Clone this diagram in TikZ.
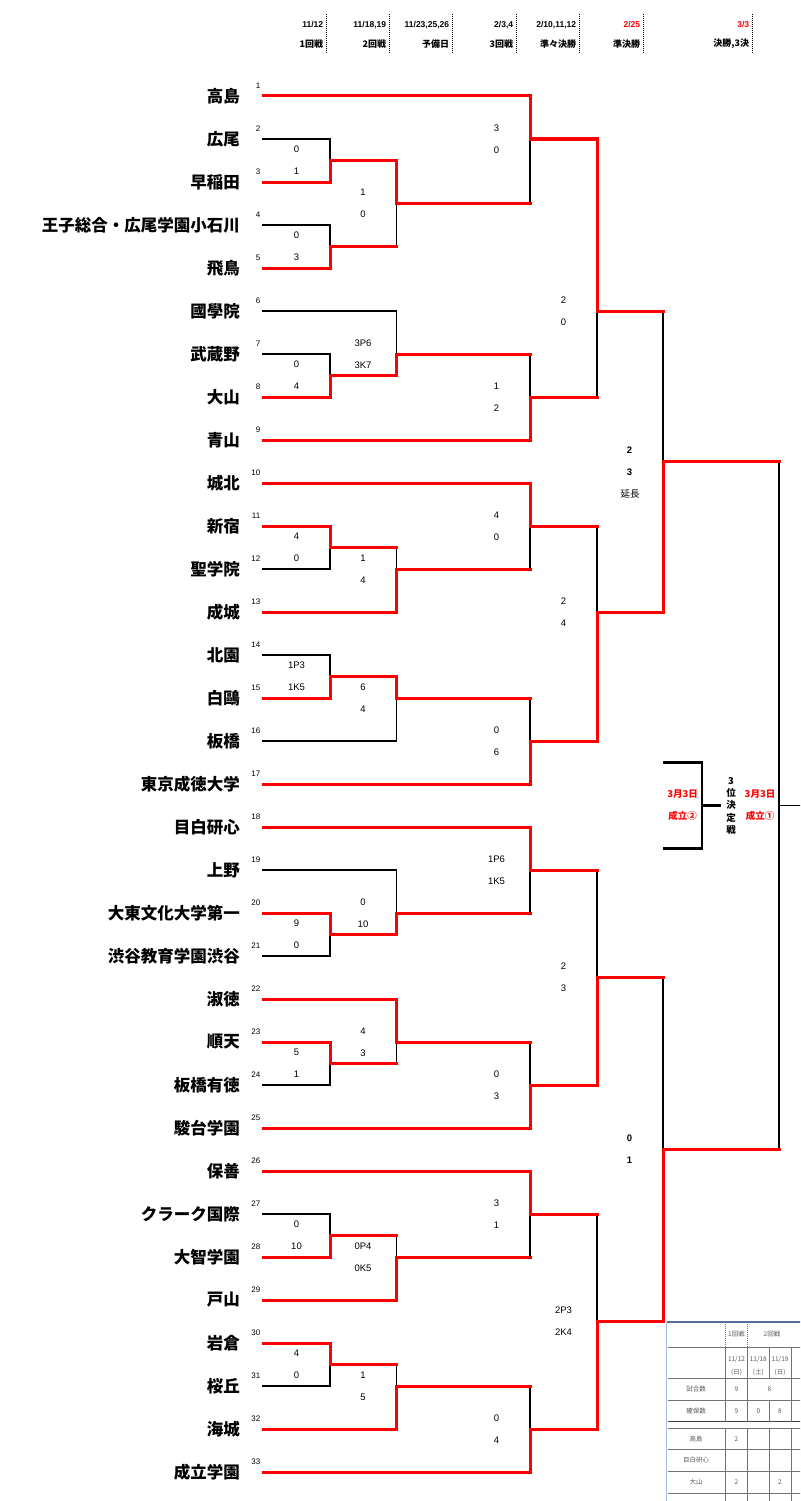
\documentclass[tikz,border=0pt]{standalone}
\usepackage{fontspec}
\setmainfont{Liberation Sans}
\newfontfamily\jp{Noto Sans CJK JP}
\definecolor{tblue}{RGB}{84,110,156}
\definecolor{lblue}{RGB}{165,188,222}

\tikzset{
  lose/.style={line width=1.6pt, line cap=rect},
  win/.style={red, line width=3pt, line cap=rect, line join=miter},
  team/.style={anchor=east, inner sep=0pt, font=\jp\bfseries\fontsize{16.5}{18}\selectfont},
  seed/.style={anchor=east, inner sep=0pt, font=\fontsize{8}{9}\selectfont},
  score/.style={inner sep=0pt, font=\fontsize{9.5}{11}\selectfont},
  head/.style={anchor=east, inner sep=0pt, font=\bfseries\fontsize{8.5}{10}\selectfont},
  headjp/.style={anchor=east, inner sep=0pt, font=\jp\bfseries\fontsize{9}{10}\selectfont},
  third/.style={inner sep=0pt, font=\jp\bfseries\fontsize{9.5}{11}\selectfont},
  cell/.style={inner sep=0pt, text=black!65, font=\jp\fontsize{6.5}{7}\selectfont},
  grid/.style={black!55, line width=0.8pt}
}

% match / x / top row / bottom row / out row / winner row / next x / scores
\def\matchlist{A1/330/2/4/3/4/396.5/0/1, A2/330/6/8/7/8/396.5/0/3,
  A3/330/12/14/13/14/396.5/0/4, A4/330/20/22/21/20/396.5/4/0,
  A5/330/26/28/27/28/396.5/1P3/1K5, A6/330/38/40/39/38/396.5/9/0,
  A7/330/44/46/45/44/396.5/5/1, A8/330/52/54/53/54/396.5/0/10,
  A9/330/58/60/59/58/396.5/4/0,
  B1/396.5/3/7/5/3/530/1/0, B2/396.5/10/13/12/13/530/3P6/3K7,
  B3/396.5/21/24/22/24/530/1/4, B4/396.5/27/30/28/27/530/6/4,
  B5/396.5/36/39/38/39/530/0/10, B6/396.5/42/45/44/42/530/4/3,
  B7/396.5/53/56/54/56/530/0P4/0K5, B8/396.5/59/62/60/62/530/1/5,
  C1/530/0/5/2/0/597/3/0, C2/530/12/16/14/16/597/1/2,
  C3/530/18/22/20/18/597/4/0, C4/530/28/32/30/32/597/0/6,
  C5/530/34/38/36/34/597/1P6/1K5, C6/530/44/48/46/48/597/0/3,
  C7/530/50/54/52/50/597/3/1, C8/530/60/64/62/64/597/0/4,
  D1/597/2/14/10/2/663/2/0, D2/597/20/30/24/30/663/2/4,
  D3/597/36/46/41/46/663/2/3, D4/597/52/62/57/62/663/2P3/2K4,
  E1/663/10/24/17/24/779/{\bfseries 2}/{\bfseries 3},
  E2/663/41/57/49/57/779/{\bfseries 0}/{\bfseries 1}}

\begin{document}
\begin{tikzpicture}[x=1pt,y=-1pt]
\useasboundingbox (0,0) rectangle (800,1501);
\clip (0,0) rectangle (800,1501);

% header
\foreach \hx/\hd/\hl/\hc in {326/{11/12}/1回戦/black, 389/{11/18,19}/2回戦/black,
  452/{11/23,25,26}/予備日/black, 516/{2/3,4}/3回戦/black,
  579/{2/10,11,12}/準々決勝/black, 643/{2/25}/準決勝/red, 752/{3/3}/{決勝,3決}/red} {
  \draw[line width=1pt, dash pattern=on 1pt off 1pt] (\hx,14) -- (\hx,53);
  \node[head, text=\hc] (hd\hx) at (\hx-2.7,25) {\hd};
  \node[headjp] (hl\hx) at (\hx-2.7,44) {\hl};
}

% teams
\foreach \i/\tname/\fx in {1/高島/530, 2/広尾/330, 3/早稲田/330,
  4/王子総合・広尾学園小石川/330, 5/飛鳥/330, 6/國學院/396.5, 7/武蔵野/330,
  8/大山/330, 9/青山/530, 10/城北/530, 11/新宿/330, 12/聖学院/330,
  13/成城/396.5, 14/北園/330, 15/白鷗/330, 16/板橋/396.5, 17/東京成徳大学/530,
  18/目白研心/530, 19/上野/396.5, 20/大東文化大学第一/330, 21/渋谷教育学園渋谷/330,
  22/淑徳/396.5, 23/順天/330, 24/板橋有徳/330, 25/駿台学園/530, 26/保善/530,
  27/クラーク国際/330, 28/大智学園/330, 29/戸山/396.5, 30/岩倉/330, 31/桜丘/330,
  32/海城/396.5, 33/成立学園/530} {
  \pgfmathsetmacro\ty{96+43*(\i-1)}
  \coordinate (t\i) at (263,\ty);
  \coordinate (e\i) at (\fx,\ty);
  \node[team] (n\i) at (240,\ty) {\tname};
  \node[seed] (s\i) at (260.5,\ty-10) {\i};
  \draw[lose] (t\i) -- (e\i);
}

% bracket, losers first
\foreach \m/\x/\a/\b/\o/\w/\nx/\sa/\sb in \matchlist {
  \coordinate (\m-a) at (\x,{96+21.5*\a});
  \coordinate (\m-b) at (\x,{96+21.5*\b});
  \coordinate (\m-o) at (\x,{96+21.5*\o});
  \coordinate (\m-w) at (\x,{96+21.5*\w});
  \coordinate (\m-n) at (\nx,{96+21.5*\o});
  \draw[lose] (\m-a) -- (\m-b);
  \node[score] (\m-sa) at ([xshift=-33.5pt,yshift=11pt]\m-o) {\sa};
  \node[score] (\m-sb) at ([xshift=-33.5pt,yshift=-11pt]\m-o) {\sb};
}
\node[score] (E1-x) at ([xshift=-33pt,yshift=-32.5pt]E1-o) {\jp 延長};

% final
\coordinate (F-o) at (779,805.5);
\coordinate (F-end) at (802,805.5);
\draw[lose] (E1-n) -- (E2-n);
\draw[lose] (F-o) -- (F-end);

% winners
\foreach \i in {1,3,5,8,9,10,11,13,15,17,18,20,22,23,25,26,28,29,30,32,33}
  \draw[win] (t\i) -- (e\i);
\foreach \m/\x/\a/\b/\o/\w/\nx/\sa/\sb in \matchlist
  \draw[win] (\m-w) -- (\m-o) -- (\m-n);

% 3rd place
\coordinate (sf1) at (663,762.5);
\coordinate (sf2) at (663,848.5);
\coordinate (qv) at (701.7,805.5);
\coordinate (qo) at (720.7,805.5);
\draw[line width=2.2pt] (sf1) -| (qv) |- (sf2);
\draw[line width=2.2pt] (qv) -- (qo);
\node[third, text=red] (d2) at (682.7,794.3) {3月3日};
\node[third, text=red] (w2) at (682.7,816.3) {成立②};
\node[third, text=red] (d1) at (760,794.3) {3月3日};
\node[third, text=red] (w1) at (760,816.3) {成立①};
\foreach \c/\cy in {3/780.7, 位/793, 決/805.3, 定/817.6, 戦/830}
  \node[third] (v\cy) at (731,\cy) {\c};

% table
\draw[tblue, line width=1.2pt] (666.5,1322) -- (802,1322);
\draw[lblue, line width=1.5pt] (666.5,1322) -- (666.5,1502);
\foreach \ry in {1347.3,1378.7,1400.3,1428,1449.7,1471.3,1493.3}
  \draw[grid] (667.5,\ry) -- (802,\ry);
\draw[black!75, line width=1.5pt] (667.5,1421.7) -- (802,1421.7);
\foreach \cx in {725.7,747.3}
  \draw[grid, dash pattern=on 1pt off 1pt] (\cx,1322) -- (\cx,1347.3);
\foreach \cx in {725.7,747.3,791} {
  \draw[grid] (\cx,1347.3) -- (\cx,1421.7);
  \draw[grid] (\cx,1428) -- (\cx,1502);
}
\draw[grid] (769.3,1347.3) -- (769.3,1378.7);
\draw[grid] (769.3,1400.3) -- (769.3,1421.7);
\draw[grid] (769.3,1428) -- (769.3,1502);
\node[cell] (k1) at (736.5,1334.5) {1回戦};
\node[cell] (k2) at (772,1334.5) {2回戦};
\foreach \cx/\cd/\cw in {736.5/{11/12}/日, 758.3/{11/18}/土, 780/{11/19}/日} {
  \node[cell] (cd\cx) at (\cx,1359) {\cd};
  \node[cell] (cw\cx) at (\cx,1372.5) {(\cw)};
}
\node[cell] (r1) at (696,1389.5) {試合数};
\node[cell] (r2) at (696,1410.8) {確保数};
\node[cell] (r3) at (696,1438.8) {高島};
\node[cell] (r4) at (696,1460.5) {目白研心};
\node[cell] (r5) at (696,1482.3) {大山};
\node[cell] (g1) at (736.5,1389.5) {9};
\node[cell] (g2) at (769.3,1389.5) {8};
\node[cell] (c1) at (736.5,1410.8) {9};
\node[cell] (c2) at (758.3,1410.8) {0};
\node[cell] (c3) at (780,1410.8) {8};
\node[cell] (h1) at (736.5,1438.8) {2};
\node[cell] (o1) at (736.5,1482.3) {2};
\node[cell] (o2) at (780,1482.3) {2};
\end{tikzpicture}
\end{document}
